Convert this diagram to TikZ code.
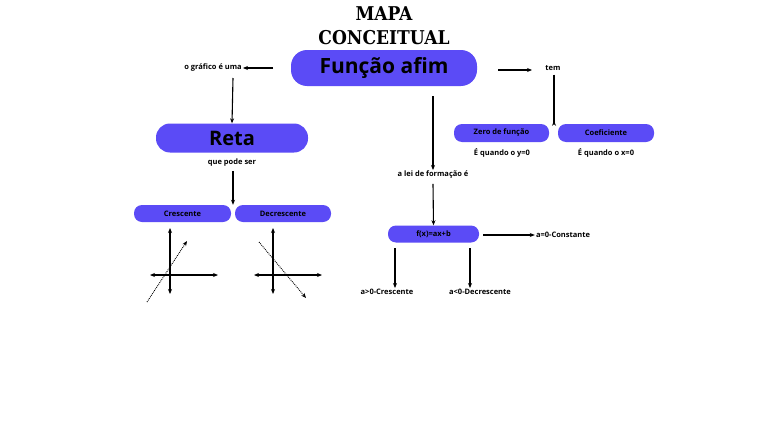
\documentclass[tikz,border=0pt]{standalone}
\usepackage{fontspec}
\setmainfont{Open Sans}
\newfontfamily\titlefont{DejaVu Serif Condensed}
\usetikzlibrary{arrows.meta}
\definecolor{pur}{HTML}{5B4BF6}
\tikzset{
 box/.style={fill=pur,rounded corners=8pt,inner sep=0pt,font=\bfseries\fontsize{7.5}{9}\selectfont},
 lbl/.style={font=\bfseries\fontsize{7.5}{9}\selectfont,inner sep=1pt},
 arr/.style={-{Stealth[length=5pt,width=4pt]},line width=1.1pt},
 ax/.style={{Stealth[length=5pt,width=4pt]}-{Stealth[length=5pt,width=4pt]},line width=1.1pt},
 dot/.style={-{Stealth[length=5pt,width=4pt]},line width=0.9pt,densely dotted}
}
\begin{document}
\begin{tikzpicture}[x=1pt,y=-1pt]
\useasboundingbox[fill=white] (0,0) rectangle (768,431);
\node[font=\titlefont\bfseries\fontsize{19}{20}\selectfont,inner sep=0pt] (t1) at (384,14) {MAPA};
\node[font=\titlefont\bfseries\fontsize{19}{20}\selectfont,inner sep=0pt] (t2) at (384,38) {CONCEITUAL};
\node[box,minimum width=186pt,minimum height=36pt,rounded corners=16pt,font=\bfseries\fontsize{21}{24}\selectfont] (fa) at (384,68) {Função afim};
\node[lbl] (gr) at (213,68) {o gráfico é uma};
\coordinate (gra) at (273,68);
\draw[arr] (gra) -- (gr.east);
\node[box,minimum width=152pt,minimum height=29pt,rounded corners=14pt,font=\bfseries\fontsize{20}{24}\selectfont] (reta) at (232,138) {Reta};
\draw[arr] (233,78) -- (reta.north);
\node[lbl] (qp) at (232,163) {que pode ser};
\node[box,minimum width=97pt,minimum height=17pt] (cr) at (182.5,213.5) {Crescente};
\node[box,minimum width=96pt,minimum height=17pt] (de) at (283,213.5) {Decrescente};
\draw[arr] (qp.south -| 233,0) ++(0,3) -- (cr.north -| 233,0);
% graphs
\coordinate (c1) at (170,228); \coordinate (c2) at (170,294);
\coordinate (c3) at (150,275); \coordinate (c4) at (218,275);
\draw[ax] (c1) -- (c2); \draw[ax] (c3) -- (c4);
\coordinate (c5) at (147,302); \coordinate (c6) at (187,241);
\draw[dot] (c5) -- (c6);
\coordinate (d1) at (273,228); \coordinate (d2) at (273,294);
\coordinate (d3) at (254,275); \coordinate (d4) at (322,275);
\draw[ax] (d1) -- (d2); \draw[ax] (d3) -- (d4);
\coordinate (d5) at (259,242); \coordinate (d6) at (306,298);
\draw[dot] (d5) -- (d6);
% center
\coordinate (ca) at (433,96);
\node[lbl] (lei) at (433,175) {a lei de formação é};
\draw[arr] (ca) -- (lei.north);
\node[box,minimum width=91pt,minimum height=17pt] (fx) at (433.5,234) {f(x)=ax+b};
\draw[arr] (lei.south) ++(0,4) -- (fx.north);
\node[lbl] (a0) at (563,235) {a=0-Constante};
\draw[arr] (483,235) -- (a0.west);
\node[lbl] (ap) at (387,292) {a>0-Crescente};
\node[lbl] (an) at (480,292) {a<0-Decrescente};
\draw[arr] (395,248) -- (ap.north -| 395,0);
\draw[arr] (470,248) -- (an.north -| 470,0);
% right
\node[lbl] (tem) at (553,68) {tem};
\draw[arr] (498,70) -- (532,70);
\node[box,minimum width=95pt,minimum height=18pt] (ze) at (501.5,133) {Zero de função};
\node[box,minimum width=96pt,minimum height=18pt] (co) at (606,133) {Coeficiente};
\draw[arr] (tem.south -| 554,0) ++(0,3) -- (co.north -| 554,0) ++(0,-3);
\node[lbl] (zy) at (502,153) {É quando o y=0};
\node[lbl] (cx) at (606,153) {É quando o x=0};
\end{tikzpicture}
\end{document}
